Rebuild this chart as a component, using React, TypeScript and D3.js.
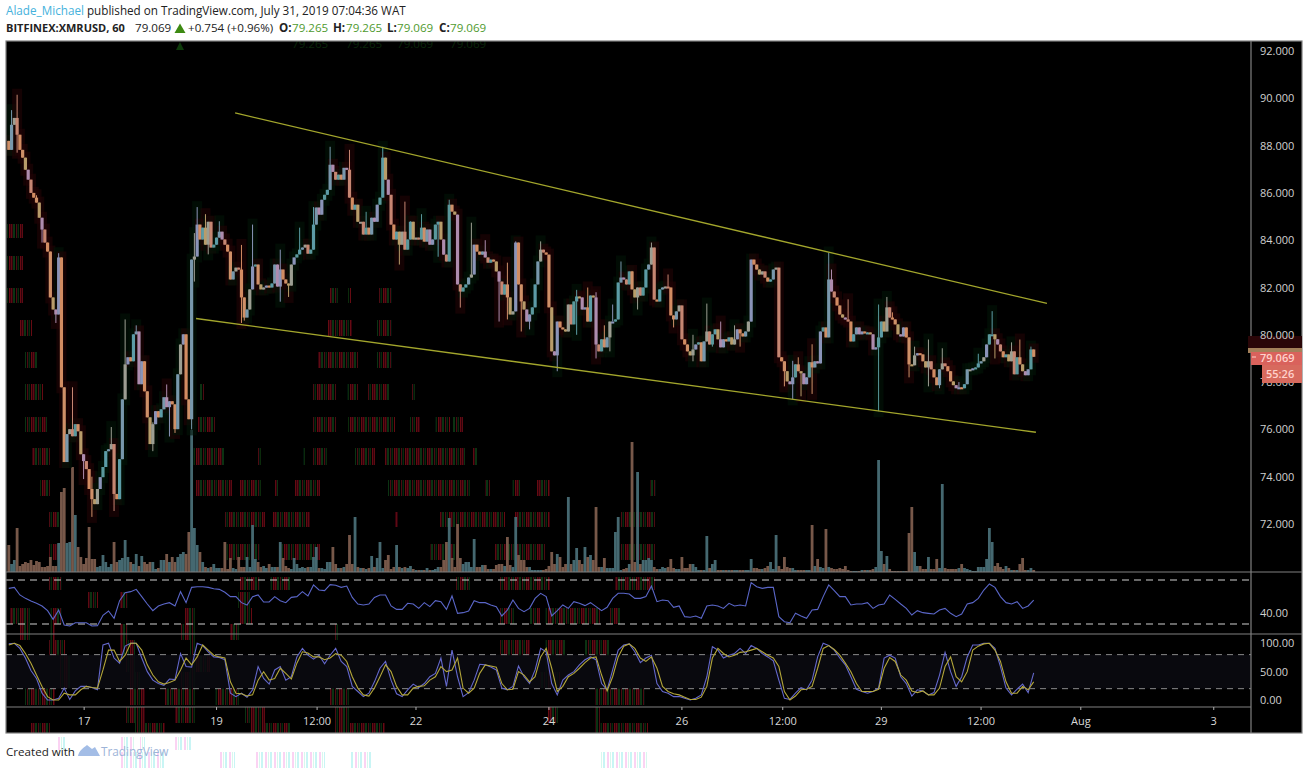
import React from 'react';
import * as d3 from 'd3';

// hourly closes
const closes = [
  87.82, 88.88, 89.17, 88.46, 87.82, 87.49, 86.98, 86.56, 86.0, 85.8,
  85.59, 84.95, 84.45, 83.9, 83.52, 81.58, 81.07, 80.86, 83.27, 77.78,
  74.62, 75.8, 76.01, 75.71, 76.22, 75.92, 74.95, 74.66, 74.32, 73.48,
  73.05, 72.84, 73.48, 73.98, 74.41, 75.08, 75.16, 75.38, 73.27, 73.05,
  74.74, 77.27, 78.75, 79.05, 78.88, 80.02, 80.14, 77.91, 78.88, 77.61,
  76.51, 75.38, 76.22, 76.77, 76.51, 76.85, 77.36, 76.94, 77.19, 77.06,
  76.01, 78.33, 79.59, 80.02, 77.27, 76.43, 83.18, 83.31, 84.66, 84.03,
  84.53, 83.81, 84.78, 83.69, 83.81, 84.11, 84.36, 84.03, 83.81, 83.52,
  82.34, 82.68, 82.84, 82.76, 81.58, 80.73, 81.07, 81.92, 82.89, 82.97,
  82.13, 81.92, 82, 82.08, 82, 82.17, 82.97, 82.04, 82.76, 82.34,
  82.17, 82.08, 82.97, 83.27, 83.4, 83.6, 83.69, 83.81, 83.43, 83.6,
  84.66, 85.38, 85.08, 85.71, 85.92, 86.13, 87.19, 86.89, 86.56, 86.77,
  86.56, 87.06, 86.98, 85.8, 85.29, 85.5, 84.78, 84.78, 84.24, 84.53,
  84.24, 84.95, 84.78, 85.5, 85.8, 87.49, 86.56, 85.92, 84.66, 84.03,
  84.36, 83.81, 84.36, 83.6, 84.03, 84.78, 84.03, 84.11, 84.03, 84.53,
  83.94, 84.45, 83.81, 84.03, 84.66, 84.78, 84.03, 83.39, 83.1, 85.5,
  85.21, 85.08, 82.13, 81.83, 82, 82.13, 82.42, 82.55, 83.81, 83.52,
  83.39, 83.52, 83.27, 83.05, 83.18, 83.1, 82.68, 82.25, 81.7, 82.13,
  81.58, 80.86, 80.99, 83.9, 82.13, 81.41, 81.07, 80.56, 80.86, 81.16,
  82.13, 83.1, 83.6, 83.48, 83.39, 81.16, 79.3, 79.13, 80.56, 80.31,
  80.23, 80.14, 81.28, 80.44, 81.41, 81.62, 81.58, 81.07, 81.16, 80.56,
  81.66, 81.58, 79.59, 79.3, 79.81, 79.47, 79.89, 80.56, 80.56, 80.65,
  82.21, 82.42, 82.34, 82.13, 82.68, 81.92, 81.58, 82, 81.66, 82,
  82.76, 82.97, 83.69, 81.49, 81.41, 81.92, 82, 82.04, 82, 80.82,
  80.65, 80.99, 81.24, 79.81, 79.59, 79.3, 79.13, 79.38, 79.59, 79.68,
  78.88, 79.72, 80.14, 79.59, 80.02, 80.23, 79.81, 79.47, 79.81, 79.72,
  79.89, 79.59, 79.81, 80.23, 80.06, 79.93, 80.14, 80.56, 83.18, 82.97,
  82.76, 82.55, 82.68, 82.42, 82.25, 82.34, 82.76, 82.84, 79.05, 78.88,
  78.46, 78.03, 77.91, 78.2, 78.75, 78.46, 78.37, 77.91, 78.2, 78.84,
  78.62, 78.88, 78.79, 80.14, 80.31, 79.89, 82.34, 81.83, 81.58, 81.24,
  80.86, 80.73, 80.65, 80.56, 79.72, 80.02, 80.31, 80.02, 80.14, 80.06,
  80.1, 80.02, 79.38, 79.47, 79.89, 80.56, 80.14, 81.16, 80.73, 80.65,
  80.44, 80.02, 79.93, 80.31, 79.89, 78.75, 78.71, 79.13, 79.22, 79.17,
  78.88, 78.62, 78.88, 78.54, 78.2, 77.87, 78.54, 78.79, 78.67, 78.46,
  78.03, 77.87, 77.74, 77.78, 77.74, 77.91, 78.54, 78.54, 78.58, 78.62,
  78.79, 78.88, 79.05, 79.59, 80.02, 80.02, 79.81, 79.59, 79.3, 79.05,
  79.17, 78.88, 79.3, 78.33, 79.05, 78.75, 78.46, 78.29, 78.54, 79.38,
  79.07,
];

// [bar, price] only where a wick clearly sticks out of the body
const wickHighs = [
  [1, 89.5], [3, 90.15], [6, 87.3], [10, 85.9], [18, 83.45], [23, 77.78], [30, 74], [37, 76.1], [42, 80.65], [46, 80.4],
  [47, 79.8], [52, 76.3], [57, 77.9], [67, 84.3], [68, 85.4], [71, 85.1], [76, 84.8], [84, 83.8], [88, 84.66], [98, 83.6],
  [105, 84.53], [110, 85.4], [116, 87.95], [123, 87.82], [129, 85.2], [135, 87.95], [143, 85.63], [145, 84.8], [149, 85.1],
  [159, 85.71], [167, 84.74], [172, 84], [180, 83.05], [183, 83.95], [192, 83.95], [205, 81.9], [209, 82], [212, 81.8],
  [215, 80.4], [218, 81.28], [221, 83.1], [225, 82.7], [232, 83.9], [238, 82.55], [247, 80], [252, 81.32], [257, 80.56],
  [262, 80.4], [283, 78.9], [285, 79.05], [290, 79.6], [296, 83.48], [297, 82.76], [303, 81.5], [314, 81.28], [317, 81.6],
  [319, 80.95], [327, 79.5], [332, 79.8], [337, 79.43], [343, 78], [350, 79.2], [355, 81], [362, 79.68], [365, 79.8], [369, 79.5],
];
const wickLows = [
  [3, 87.7], [12, 83.9], [17, 80.5], [27, 73.9], [30, 72.3], [38, 72.55], [52, 75.08], [58, 75.7], [60, 75.85], [66, 76],
  [67, 82.25], [72, 83.4], [84, 80.5], [85, 80.6], [98, 81.4], [101, 81.6], [141, 82.97], [155, 83.3], [163, 81.15], [177, 80.56],
  [180, 80.65], [185, 80.14], [188, 80.23], [198, 78.46], [205, 80], [212, 79], [217, 79.3], [227, 81.07], [240, 80.31], [247, 78.88],
  [254, 79.5], [264, 79.5], [280, 77.82], [283, 77.27], [286, 77.4], [290, 77.5], [314, 76.77], [325, 78.2], [332, 77.82], [336, 77.74], [356, 79],
];

const volumes = [
  27, 8, 12, 44, 6, 8, 10, 9, 12, 7, 11, 10, 5, 5, 6, 15, 6, 6, 29, 80,
  84, 29, 30, 105, 57, 25, 15, 8, 14, 45, 13, 13, 5, 6, 17, 10, 5, 8, 30, 10,
  12, 14, 32, 15, 10, 8, 18, 6, 16, 10, 8, 10, 10, 3, 4, 12, 12, 18, 10, 15,
  10, 15, 18, 20, 18, 40, 142, 44, 27, 20, 10, 5, 4, 5, 8, 4, 4, 4, 30, 3,
  14, 4, 3, 15, 5, 5, 15, 5, 47, 13, 10, 5, 6, 4, 8, 5, 5, 5, 30, 14,
  6, 4, 3, 14, 8, 4, 5, 4, 5, 5, 15, 25, 4, 4, 3, 10, 10, 25, 8, 4,
  4, 5, 8, 37, 8, 55, 5, 4, 4, 3, 4, 16, 5, 14, 30, 4, 12, 17, 3, 5,
  27, 5, 4, 5, 4, 6, 3, 2, 2, 2, 2, 4, 2, 2, 3, 5, 5, 12, 30, 54,
  14, 5, 48, 14, 8, 10, 10, 5, 33, 5, 5, 7, 7, 3, 3, 3, 7, 8, 8, 6,
  35, 7, 5, 55, 17, 12, 12, 5, 5, 2, 2, 2, 2, 2, 3, 6, 20, 8, 18, 15,
  5, 8, 75, 8, 12, 24, 12, 8, 25, 15, 17, 12, 65, 5, 5, 14, 4, 4, 4, 40,
  55, 2, 3, 4, 8, 130, 10, 100, 8, 12, 12, 14, 12, 5, 3, 3, 5, 4, 5, 13,
  4, 3, 3, 15, 4, 4, 8, 8, 5, 2, 2, 2, 36, 4, 8, 12, 2, 2, 2, 2,
  2, 2, 2, 2, 2, 2, 2, 2, 13, 4, 4, 3, 3, 4, 6, 10, 3, 37, 6, 3,
  15, 5, 4, 4, 2, 2, 2, 2, 2, 2, 47, 6, 13, 5, 4, 43, 5, 4, 3, 3,
  4, 3, 6, 2, 1, 1, 1, 1, 2, 2, 2, 2, 3, 5, 112, 21, 8, 16, 3, 1,
  1, 1, 1, 1, 1, 39, 65, 20, 6, 6, 3, 3, 15, 3, 3, 13, 4, 88, 4, 3,
  3, 3, 3, 4, 8, 4, 3, 2, 1, 1, 5, 5, 5, 13, 44, 30, 6, 9, 5, 3,
  6, 4, 2, 2, 2, 8, 14, 2, 2, 4, 2,
];

// indicators, one reading every second bar
const rsi = [
  62.4, 63.3, 56.4, 53.3, 50.9, 48.8, 46.4, 42.1, 34.2, 42.7, 29.1, 28.2, 31.2, 31.2, 31.2, 28.2, 28.5, 37.9, 41.8, 35.2,
  51.2, 58.5, 59.4, 61.5, 54.9, 48.2, 42.1, 46.4, 48.2, 49.4, 46.4, 59.4, 49.4, 63.3, 63.9, 63.9, 63.3, 62.1, 61.5, 58.8,
  54.9, 54.9, 49.4, 47.3, 54.9, 56.4, 50, 50, 54.9, 51.2, 49.4, 54.2, 54.9, 59.4, 55.5, 65.5, 60.9, 60.3, 65.8, 65.2,
  63.3, 64.5, 54.2, 48.2, 47.3, 48.2, 54.2, 56.4, 56.4, 46.4, 43.3, 43.3, 48.8, 48.2, 44.2, 49.4, 45.8, 51.2, 50.3, 43.3,
  55.5, 39.7, 40.3, 41.8, 51.2, 49.4, 49.4, 47.3, 45.8, 37.3, 42.7, 51.8, 44.2, 41.2, 44.2, 53.3, 57.9, 54.9, 37.3, 42.1,
  47.3, 44.2, 50.3, 48.8, 46.7, 49.4, 45.8, 42.1, 45.2, 53.3, 57.9, 57.9, 57.3, 53.3, 53.3, 54.9, 64.5, 50.3, 51.8, 51.2,
  45.2, 46.4, 36.7, 36.1, 37.3, 35.2, 46.4, 47.3, 46.4, 44.2, 48.8, 46.4, 47.3, 46.4, 67.6, 63.9, 62.4, 63.3, 63.3, 36.7,
  32.1, 31.2, 39.7, 37.3, 35.2, 42.7, 43.3, 54.9, 65.5, 60.3, 54.9, 54.9, 47.3, 48.2, 48.2, 49.4, 44.2, 47.3,
  48.2, 56.4, 52.4, 48.2, 44.2, 38.2, 42.1, 40.3, 39.7, 39.1, 42.7, 44.2, 39.7, 36.7, 39.1, 48.2, 49.4, 53.3, 60.9, 66.4,
  63.3, 54.9, 49.4, 48.2, 50.3, 44.2, 46.4, 51.8,
];
const stochK = [
  99, 100, 91, 74, 52, 38, 12, 0, 0, 3, 21, 1, 16, 24, 24, 22, 18, 97, 100, 74,
  65, 95, 100, 100, 74, 50, 35, 29, 26, 37, 36, 82, 59, 58, 100, 96, 85, 76, 75, 71,
  12, 6, 12, 5, 18, 59, 38, 28, 53, 59, 35, 41, 76, 91, 79, 72, 79, 64, 79, 91,
  68, 59, 24, 15, 6, 12, 32, 56, 68, 35, 11, 6, 18, 28, 22, 29, 41, 47, 74, 24,
  88, 41, 6, 13, 35, 63, 62, 58, 53, 21, 18, 24, 60, 41, 29, 53, 91, 85, 29, 9,
  35, 44, 50, 62, 71, 76, 71, 29, 18, 53, 88, 97, 99, 85, 66, 74, 79, 29, 15, 12,
  6, 6, 3, 0, 3, 9, 41, 94, 88, 74, 79, 82, 91, 82, 96, 91, 82, 76, 69, 35,
  3, 1, 12, 22, 18, 35, 76, 100, 96, 88, 74, 62, 41, 19, 15, 12, 15, 21,
  74, 79, 74, 41, 29, 7, 18, 16, 9, 13, 44, 84, 50, 24, 41, 76, 97, 97, 100, 100,
  91, 59, 21, 9, 19, 28, 13, 48,
];
const stochD = [
  97, 100, 96, 82, 65, 44, 24, 6, 0, 0, 12, 9, 9, 18, 24, 22, 21, 53, 88, 88,
  68, 79, 100, 100, 88, 62, 44, 32, 28, 31, 35, 53, 74, 62, 76, 97, 88, 79, 76, 74,
  32, 12, 11, 7, 9, 35, 50, 35, 38, 56, 47, 37, 65, 85, 83, 76, 76, 71, 74, 82,
  79, 68, 41, 21, 9, 7, 21, 41, 62, 50, 24, 9, 9, 21, 24, 25, 35, 41, 59, 50,
  53, 74, 21, 12, 21, 47, 62, 60, 58, 29, 18, 19, 50, 44, 32, 41, 76, 91, 56, 15,
  24, 41, 47, 56, 66, 74, 76, 44, 16, 41, 76, 95, 99, 91, 74, 68, 76, 56, 24, 15,
  11, 9, 5, 1, 1, 5, 24, 74, 91, 82, 76, 79, 84, 85, 88, 91, 85, 79, 74, 59,
  15, 0, 7, 18, 19, 24, 56, 91, 96, 89, 79, 65, 50, 29, 15, 15, 15, 19,
  56, 75, 68, 44, 35, 16, 13, 16, 9, 9, 21, 59, 76, 41, 32, 50, 88, 95, 99, 100,
  88, 68, 32, 12, 12, 24, 18, 32,
];

// channel drawn on the chart: [bar, price] at both ends
const upperChannel = [[81.7, 89.38], [374.8, 81.33]];
const lowerChannel = [[67.6, 80.69], [370.8, 75.88]];

const priceTicks = [92, 90, 88, 86, 84, 82, 80, 78, 76, 74, 72];
const stochTicks = [100, 50, 0];
const timeTicks: [number, string][] = [
  [27.2, '17'], [75, '19'], [111.3, '12:00'], [147, '22'], [195, '24'], [243, '26'],
  [279.4, '12:00'], [315, '29'], [351, '12:00'], [387, 'Aug'], [435, '3'],
];

const upColors = ['#5c9ca6', '#7898ac', '#9c9e92', '#8a94b8', '#5a989c'];
const downColors = ['#cf9068', '#b89c6a', '#ae8cae', '#c68672', '#d28c62'];

// the leftover red/green stripes of the screenshot: [y0, y1, x0, x1, ...]
const ghostRows = [
  [224, 238, 7, 23], [256, 270, 7, 23], [288, 303, 7, 23, 330, 338, 348, 351, 378, 392],
  [320, 336, 20, 32, 328, 352, 377, 392], [352, 368, 25, 37, 318, 358, 377, 392],
  [384, 400, 25, 43, 200, 204, 313, 336, 347, 358, 368, 390, 412, 415],
  [417, 432, 25, 47, 198, 215, 312, 336, 348, 395, 410, 420, 435, 450, 453, 463],
  [448, 465, 32, 50, 192, 225, 258, 261, 303, 306, 312, 328, 355, 375, 385, 465, 473, 478],
  [480, 496, 40, 50, 195, 232, 240, 262, 275, 278, 295, 320, 388, 470, 485, 490, 512, 520, 537, 550, 650, 656],
  [512, 527, 48, 60, 225, 265, 272, 310, 395, 398, 440, 505, 515, 550, 620, 655],
  [544, 560, 48, 60, 225, 260, 280, 320, 430, 460, 495, 545, 620, 655],
  [577, 590, 48, 62, 240, 260, 270, 290, 455, 470, 500, 550, 615, 655],
  [592, 608, 88, 98, 120, 128, 238, 250],
  [608, 624, 10, 30, 50, 62, 185, 195, 240, 252, 500, 515, 530, 540, 545, 600, 610, 620],
  [624, 640, 20, 30, 50, 55, 120, 128, 180, 195, 230, 240, 335, 338],
  [640, 656, 48, 65, 120, 135, 190, 195, 500, 530, 545, 565, 585, 610],
  [656, 672, 60, 70, 125, 135, 190, 210, 545, 550],
  [672, 688, 60, 70, 130, 140, 180, 195, 540, 560],
  [688, 705, 25, 55, 130, 145, 165, 195, 215, 240, 330, 350, 595, 645],
  [707, 723, 125, 145, 175, 195, 245, 265, 335, 350, 548, 558, 595, 600],
  [723, 733, 30, 50, 135, 165, 250, 290, 335, 385, 595, 648],
];
const paleRows = [
  [737, 750, 56, 65, 120, 135, 140, 145, 175, 192],
  [752, 768, 120, 165, 220, 235, 255, 325, 350, 373, 600, 648],
];

const W = 1308;
const H = 768;
const left = 6;
const right = 1251;
const outer = 1302;
const top = 41;
const volBottom = 572;
const rsiBottom = 634;
const stochBottom = 707;
const bottom = 733;

const x = d3.scaleLinear().domain([0, 370]).range([8.8, 1033.7]);
const yPrice = d3.scaleLinear().domain([72, 92]).range([524, 51]);
const yVol = d3.scaleLinear().domain([0, 142]).range([volBottom, volBottom - 142]);
const yRsi = d3.scaleLinear().domain([30, 70]).range([624, 580]);
const yStoch = d3.scaleLinear().domain([0, 100]).range([700, 643.3]);

const highMap = new Map(wickHighs.map(d => [d[0], d[1]]));
const lowMap = new Map(wickLows.map(d => [d[0], d[1]]));

const candles = closes.map((close, i) => {
  const open = i === 0 ? 88.2 : closes[i - 1];
  const up = close >= open;
  const high = Math.max(open, close, highMap.get(i) ?? 0);
  const low = Math.min(open, close, lowMap.get(i) ?? 999);
  return { i, open, close, high, low, up };
});

const everyOther = d3.line<number>().x((_, i) => x(i * 2));
const rsiPath = everyOther.y(d => yRsi(d))(rsi) as string;
const kPath = everyOther.y(d => yStoch(d))(stochK) as string;
const dPath = everyOther.y(d => yStoch(d))(stochD) as string;

const spans = (rows: number[][]) =>
  rows.flatMap(r => {
    const out: { y0: number; y1: number; x0: number; x1: number }[] = [];
    for (let k = 2; k < r.length; k += 2) out.push({ y0: r[0], y1: r[1], x0: r[k], x1: r[k + 1] });
    return out;
  });

const axisFont = '"Open Sans", sans-serif';
const headFont = '"Open Sans", sans-serif';

export default function App() {
  const channel = (c: number[][], key: string) => (
    <line key={key} x1={x(c[0][0])} y1={yPrice(c[0][1])} x2={x(c[1][0])} y2={yPrice(c[1][1])} stroke="#a3a62c" strokeWidth={1.3} />
  );
  return (
    <svg width={W} height={H} style={{ position: 'fixed', left: 0, top: 0, display: 'block', background: '#fff' }}>
      <defs>
        <pattern id="ghost" width="11" height="16" patternUnits="userSpaceOnUse">
          <rect width="11" height="16" fill="#000" />
          <rect x="0" width="1.500" height="16" fill="#6e0a16" />
          <rect x="2" width="2" height="16" fill="#0a3c12" />
          <rect x="5" width="1" height="16" fill="#5a0812" />
          <rect x="6.500" width="1.500" height="16" fill="#083010" />
          <rect x="9" width="1.500" height="16" fill="#780c18" />
        </pattern>
        <pattern id="pale" width="9" height="16" patternUnits="userSpaceOnUse">
          <rect width="9" height="16" fill="#fff" />
          <rect x="0" width="2" height="16" fill="#c9f5f5" />
          <rect x="4" width="2" height="16" fill="#fbd3f3" />
          <rect x="7" width="1" height="16" fill="#d8f8ee" />
        </pattern>
        <filter id="soft" x="0" y="0" width="100%" height="100%">
          <feGaussianBlur stdDeviation="0.45" />
        </filter>
        <filter id="softer" x="0" y="0" width="100%" height="100%">
          <feGaussianBlur stdDeviation="0.3" />
        </filter>
        <clipPath id="plot">
          <rect x={left} y={top} width={outer - left} height={bottom - top} />
        </clipPath>
      </defs>

      {/* header */}
      <text x={6} y={15} fontFamily={headFont} fontSize={11.7} fill="#222">
        <tspan fill="#45b2dc">Alade_Michael</tspan> published on TradingView.com, July 31, 2019 07:04:36 WAT
      </text>
      <g fontFamily={headFont} fontSize={11.6} fill="#222">
        <text x={6} y={32} fontWeight={700} fontSize={11}>BITFINEX:XMRUSD, 60</text>
        <text x={135} y={32}>79.069</text>
        <path d="M174.500 33 L180 23.500 L185.500 33 Z" fill="#3d8a12" />
        <text x={188} y={32}>+0.754 (+0.96%)</text>
        <text x={279} y={32} fontWeight={700}>O:</text>
        <text x={292} y={32} fill="#4f9a2e">79.265</text>
        <text x={333} y={32} fontWeight={700}>H:</text>
        <text x={346} y={32} fill="#4f9a2e">79.265</text>
        <text x={387} y={32} fontWeight={700}>L:</text>
        <text x={397} y={32} fill="#4f9a2e">79.069</text>
        <text x={439} y={32} fontWeight={700}>C:</text>
        <text x={450} y={32} fill="#4f9a2e">79.069</text>
      </g>

      {/* panes */}
      <rect x={left} y={top} width={outer - left} height={bottom - top} fill="#000" />
      <g clipPath="url(#plot)">
        <g filter="url(#softer)" opacity={0.85}>
          {spans(ghostRows).map((s, i) => (
            <rect key={i} x={s.x0} y={s.y0} width={s.x1 - s.x0} height={s.y1 - s.y0} fill="url(#ghost)" />
          ))}
        </g>
        <g fontFamily={headFont} fontSize={11.6} fill="#0a260a">
          <text x={292} y={48}>79.265</text>
          <text x={346} y={48}>79.265</text>
          <text x={397} y={48}>79.069</text>
          <text x={450} y={48}>79.069</text>
        </g>
        <path d="M176 50 L180 42 L184 50 Z" fill="#0d3a0a" />

        <rect x={left} y={yStoch(80)} width={right - left} height={yStoch(20) - yStoch(80)} fill="#0a0a10" fillOpacity={0.85} />

        {/* volume */}
        <g filter="url(#soft)">
          {volumes.map((v, i) => (
            <rect
              key={i}
              x={x(i) - 1.4}
              y={yVol(v)}
              width={2.8}
              height={volBottom - yVol(v)}
              fill={candles[i].up ? '#446870' : '#77584a'}
            />
          ))}
        </g>

        {/* candle halos */}
        {candles.map(c => (
          <rect
            key={c.i}
            x={x(c.i) - 5}
            y={yPrice(c.high) - 6}
            width={10}
            height={yPrice(c.low) - yPrice(c.high) + 12}
            fill={c.up ? '#021406' : '#220405'}
            fillOpacity={0.6}
          />
        ))}

        {/* candles */}
        <g filter="url(#soft)">
          {candles.map(c => {
            const col = (c.up ? upColors : downColors)[c.i % 5];
            const y0 = yPrice(Math.max(c.open, c.close));
            const y1 = yPrice(Math.min(c.open, c.close));
            return (
              <g key={c.i}>
                <line x1={x(c.i)} x2={x(c.i)} y1={yPrice(c.high)} y2={yPrice(c.low)} stroke={col} strokeWidth={1} />
                <rect x={x(c.i) - 1.6} y={y0} width={3.2} height={Math.max(y1 - y0, 2)} fill={col} />
              </g>
            );
          })}
        </g>

        {channel(upperChannel, 'upper')}
        {channel(lowerChannel, 'lower')}

        {/* rsi */}
        {[70, 30].map(v => (
          <line key={v} x1={left} x2={right} y1={yRsi(v)} y2={yRsi(v)} stroke="#d0d0d0" strokeWidth={1.2} strokeDasharray="7 5" />
        ))}
        <path d={rsiPath} fill="none" stroke="#5a66c8" strokeWidth={1.1} />

        {/* stochastic */}
        {[80, 20].map(v => (
          <line key={v} x1={left} x2={right} y1={yStoch(v)} y2={yStoch(v)} stroke="#8a8a8a" strokeWidth={1} strokeDasharray="6 5" />
        ))}
        <path d={kPath} fill="none" stroke="#6468cc" strokeWidth={1.1} />
        <path d={dPath} fill="none" stroke="#b3a63a" strokeWidth={1.1} />
      </g>

      {/* pane borders */}
      <g stroke="#808080" strokeWidth={1.2}>
        <line x1={left} x2={outer} y1={volBottom} y2={volBottom} />
        <line x1={left} x2={outer} y1={rsiBottom} y2={rsiBottom} />
        <line x1={left} x2={right} y1={stochBottom} y2={stochBottom} />
        <line x1={right} x2={right} y1={top} y2={bottom} />
        <rect x={left} y={top} width={outer - left} height={bottom - top} fill="none" />
      </g>

      {/* last price, halo below the tick labels */}
      <rect x={right - 3} y={336} width={outer - right + 3} height={15} fill="#2a0608" />

      {/* price axis */}
      <g fontFamily={axisFont} fontSize={11} fill="#d0d0d0">
        {priceTicks.map(p => (
          <text key={p} x={1260} y={yPrice(p) + 4}>{p.toFixed(3)}</text>
        ))}
        <text x={1260} y={617}>40.00</text>
        {stochTicks.map(v => (
          <text key={v} x={1260} y={yStoch(v) + 4}>{v.toFixed(2)}</text>
        ))}
      </g>

      <rect x={right - 3} y={348} width={outer - right + 3} height={5} fill="#a3805a" />
      <rect x={right} y={352} width={outer - right} height={13} fill="#d9625c" />
      <rect x={1262} y={365} width={outer - 1262} height={18} fill="#d76a5e" />
      <line x1={1252} x2={1256} y1={357} y2={357} stroke="#ffd0c8" />
      <g fontFamily={axisFont} fontSize={11} fill="#ffd2cc" fontWeight={600}>
        <text x={1260} y={362}>79.069</text>
        <text x={1266} y={378}>55:26</text>
      </g>

      {/* time axis */}
      <g fontFamily={axisFont} fontSize={11} fill="#d8d8d8" textAnchor="middle">
        {timeTicks.map(([b, label]) => (
          <g key={b}>
            <line x1={x(b)} x2={x(b)} y1={stochBottom} y2={stochBottom + 3} stroke="#b0b0b0" />
            <text x={x(b)} y={725}>{label}</text>
          </g>
        ))}
      </g>

      {/* footer */}
      {spans(paleRows).map((s, i) => (
        <rect key={i} x={s.x0} y={s.y0} width={s.x1 - s.x0} height={s.y1 - s.y0} fill="url(#pale)" />
      ))}
      <text x={6} y={756} fontFamily={headFont} fontSize={11.6} fill="#222">Created with</text>
      <path d="M78 756 C79 751 83 748 87 745 L92 749 L95 747 L100 756 Z" fill="#a3bde6" />
      <text x={101} y={756} fontFamily={headFont} fontSize={11.8} fill="#9db4d8">TradingView</text>
    </svg>
  );
}
